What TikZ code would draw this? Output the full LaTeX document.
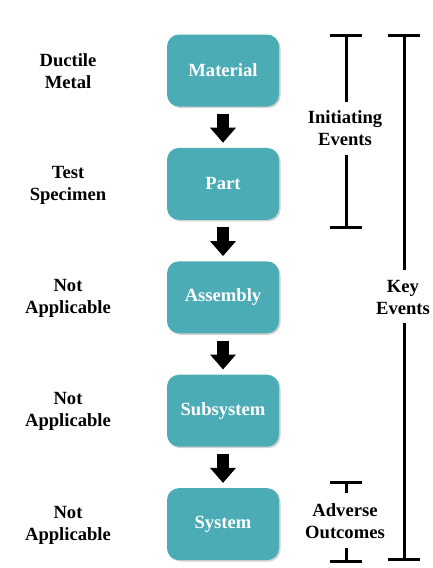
\documentclass[tikz,border=0pt]{standalone}
\usepackage{fontspec}
\setmainfont{Liberation Serif}
\usetikzlibrary{positioning,arrows.meta,shadows}
\definecolor{boxteal}{HTML}{4BACB6}
\tikzset{
  level/.style={rounded corners=12pt, fill=boxteal, minimum width=112pt,
    minimum height=72pt, text=white, font=\bfseries\fontsize{18.6}{22}\selectfont,
    drop shadow={shadow xshift=1.5pt, shadow yshift=-1.5pt, opacity=0.35}},
  lbl/.style={align=center, font=\bfseries\fontsize{18.6}{22}\selectfont},
  blockarrow/.style={line width=12pt, -{Triangle[width=25pt,length=15pt]},
    shorten <=7pt, shorten >=5pt},
  bracket/.style={line width=3pt}
}

\begin{document}
\begin{tikzpicture}[x=1pt, y=-1pt, node distance=41pt]
\useasboundingbox (0,0) rectangle (432,568);
% Levels
    \node[level] (mat) at (223,70.5) {Material};
    \node[level, below=of mat] (part) {Part};
    \node[level, below=of part] (asm) {Assembly};
    \node[level, below=of asm] (sub) {Subsystem};
    \node[level, below=of sub] (sys) {System};
% Arrows
    \draw[blockarrow] (mat) -- (part);
    \draw[blockarrow] (part) -- (asm);
    \draw[blockarrow] (asm) -- (sub);
    \draw[blockarrow] (sub) -- (sys);
% Left labels
    \node[lbl] (dm) at ([xshift=-155pt,yshift=-1pt]mat.center) {Ductile\\Metal};
    \node[lbl] (ts) at ([xshift=-155pt,yshift=-1pt]part.center) {Test\\Specimen};
    \node[lbl] (na1) at ([xshift=-155pt,yshift=-1pt]asm.center) {Not\\Applicable};
    \node[lbl] (na2) at ([xshift=-155pt,yshift=-1pt]sub.center) {Not\\Applicable};
    \node[lbl] (na3) at ([xshift=-155pt,yshift=-1pt]sys.center) {Not\\Applicable};
% Initiating events
    \node[lbl] (ie) at (345,128) {Initiating\\Events};
    \draw[bracket] (330,35) -- (362,35);
    \draw[bracket] (346,35) -- (346,102);
    \draw[bracket] (346,155) -- (346,227);
    \draw[bracket] (330,227) -- (362,227);
% Key events
    \node[lbl] (ke) at (403,297) {Key\\Events};
    \draw[bracket] (388,35) -- (420,35);
    \draw[bracket] (404,35) -- (404,270);
    \draw[bracket] (404,323) -- (404,559);
    \draw[bracket] (388,559) -- (420,559);
% Adverse outcomes
    \node[lbl] (ao) at (345,521) {Adverse\\Outcomes};
    \draw[bracket] (330,482) -- (362,482);
    \draw[bracket] (346,482) -- (346,493);
    \draw[bracket] (346,548) -- (346,561);
    \draw[bracket] (330,561) -- (362,561);
\end{tikzpicture}
\end{document}
